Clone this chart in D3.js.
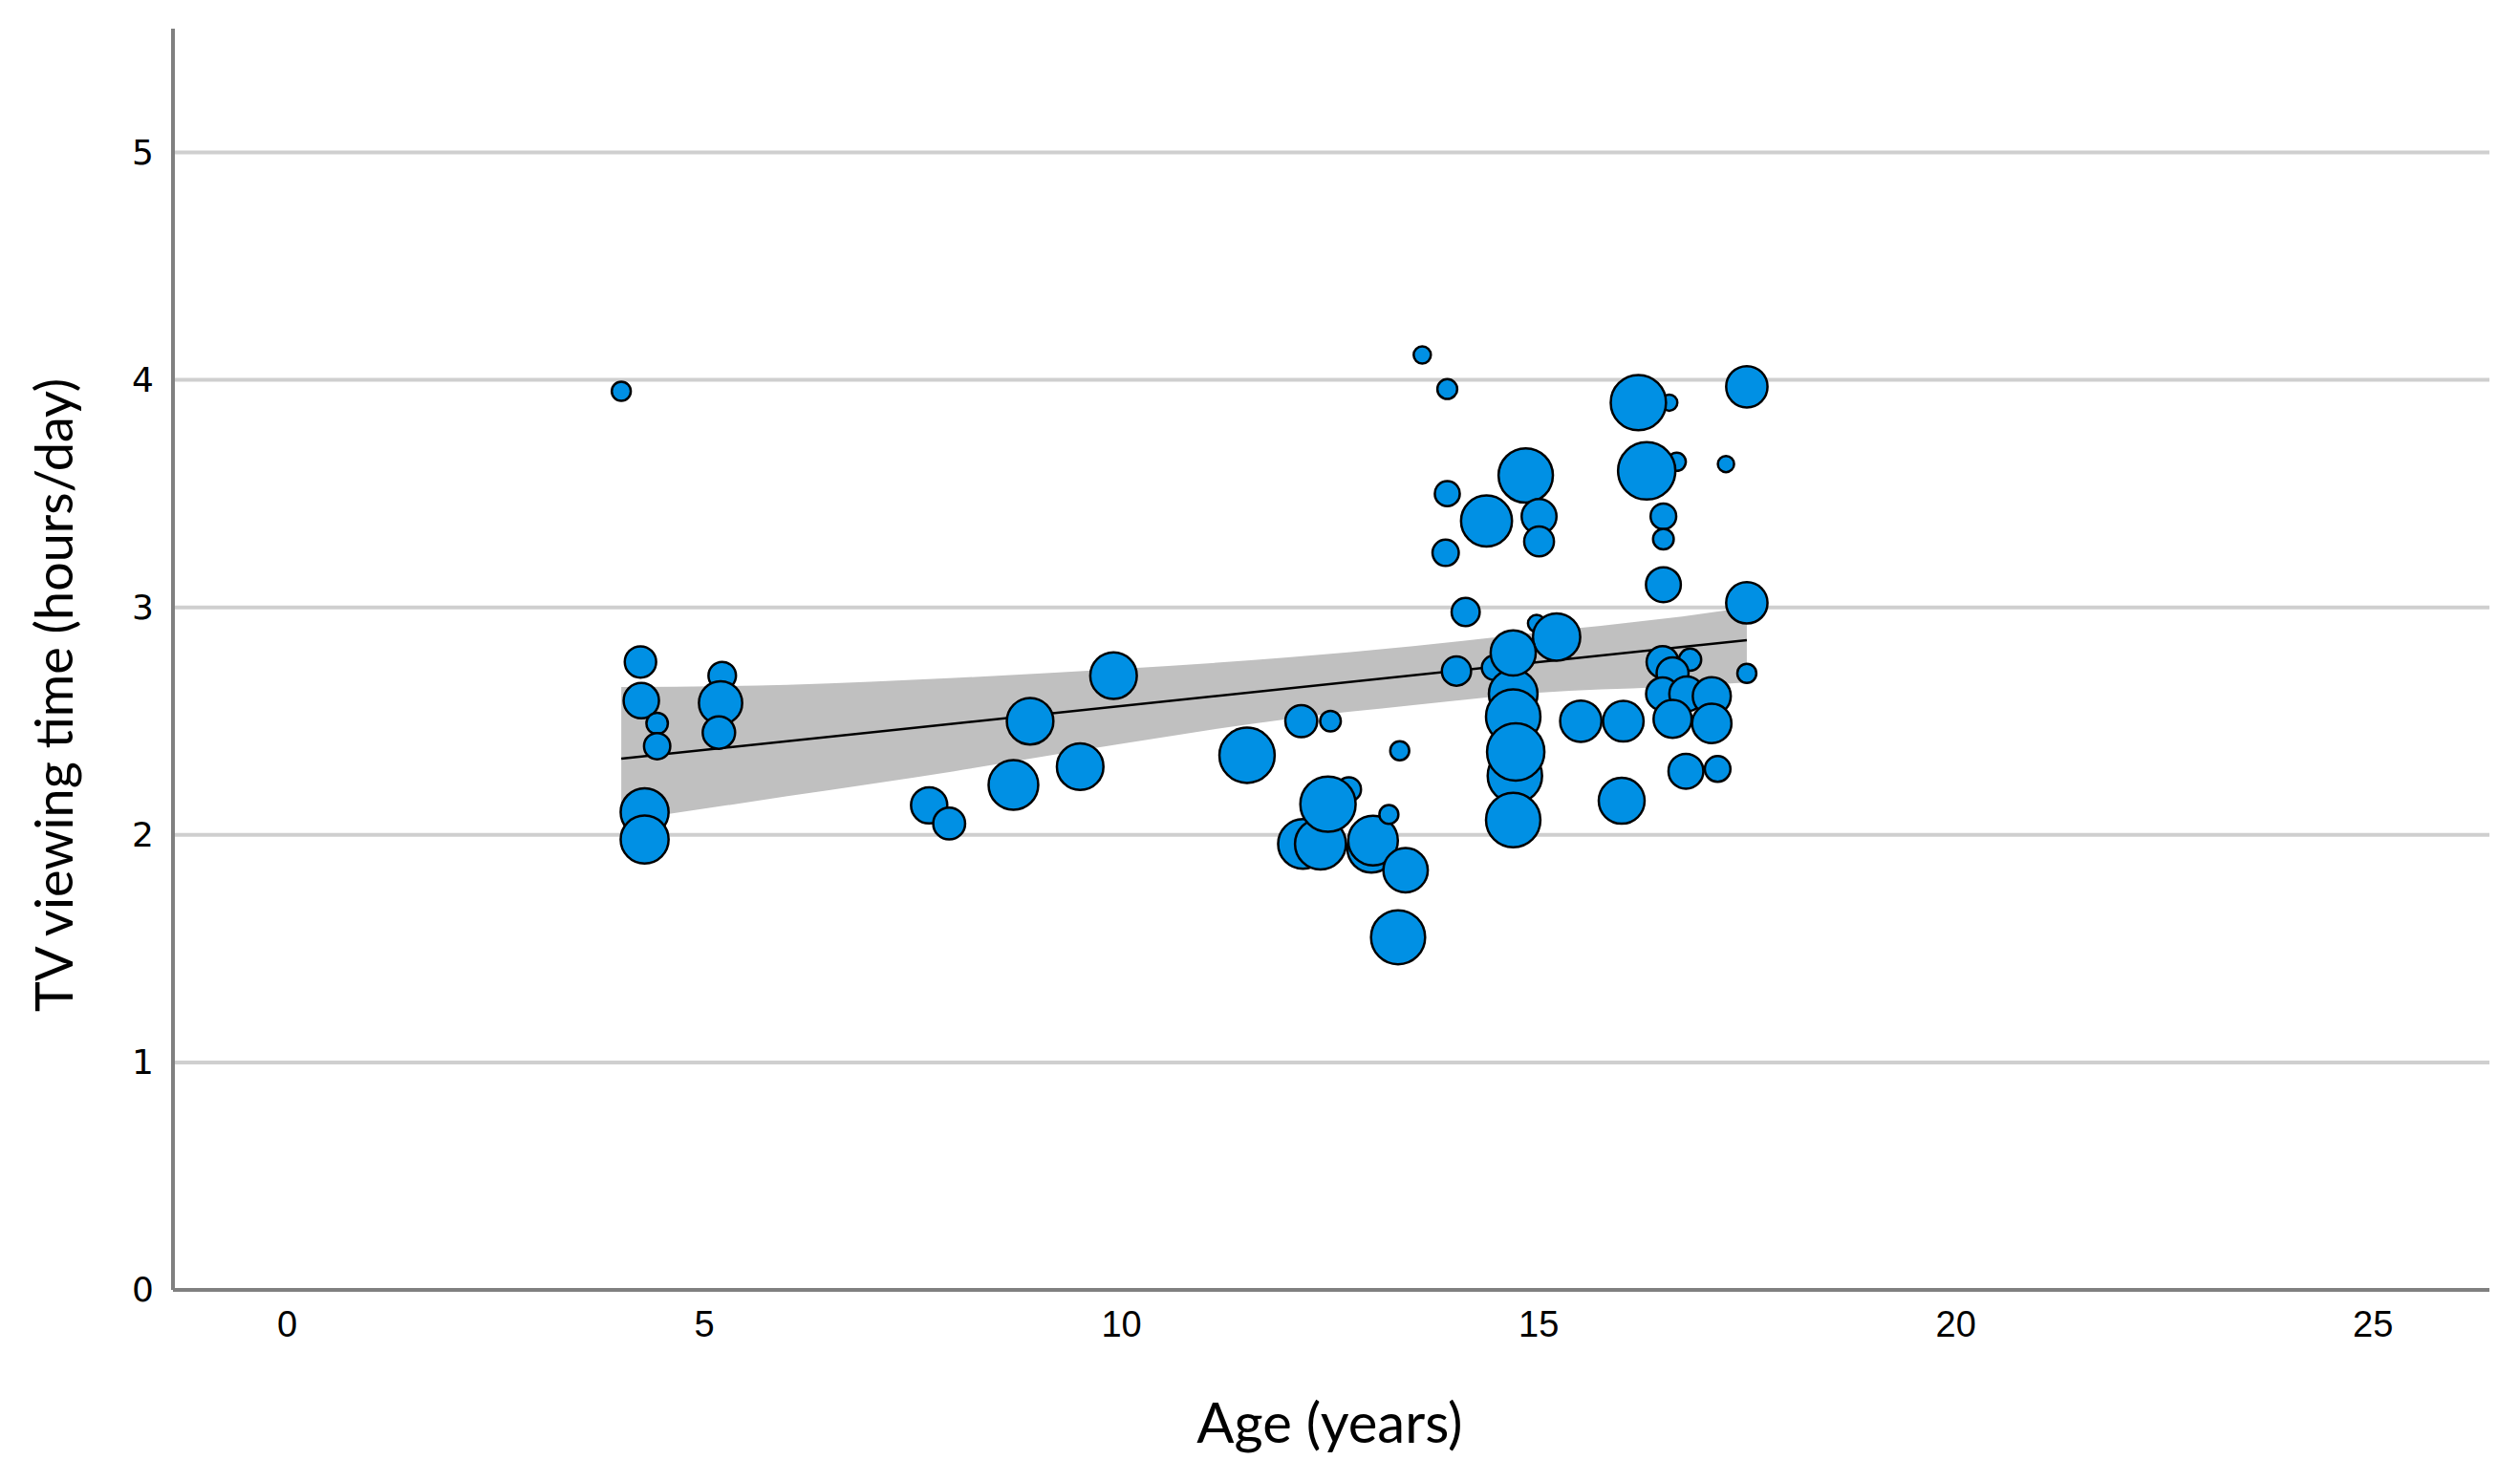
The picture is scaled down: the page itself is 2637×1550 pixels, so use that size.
<!DOCTYPE html>
<html>
<head>
<meta charset="utf-8">
<script src="https://cdn.jsdelivr.net/npm/d3@7"></script>
<style>
  body { margin: 0; background: #fff; }
  .tick text { fill: #000; }
</style>
</head>
<body>
<div id="chart"></div>
<script>
// data
// age (years), TV viewing time (hours/day), bubble weight
var ages = [4.01, 4.24, 4.25, 4.44, 4.44, 4.29, 4.29, 5.22, 5.20, 5.18,
  7.70, 7.94, 8.71, 8.91, 9.51, 9.91,
  11.51, 12.16, 12.51, 12.18, 12.39, 12.73, 12.48, 13.00, 13.02, 13.21, 13.34, 13.41, 13.32,
  13.61, 13.91, 13.91, 13.89, 14.13, 14.38, 14.85, 15.01, 15.01, 14.02, 14.47, 14.98, 15.22,
  14.70, 14.70, 14.72, 14.70, 14.73, 14.70,
  15.51, 16.02, 16.00, 16.57, 16.20, 16.66, 16.30, 16.50, 16.50, 16.50, 17.50, 17.25, 17.50, 17.50,
  16.49, 16.82, 16.61, 16.49, 16.78, 17.08, 16.61, 17.08, 16.77, 17.15];
var tvTime = [3.95, 2.76, 2.59, 2.49, 2.39, 2.10, 1.98, 2.70, 2.58, 2.45,
  2.13, 2.05, 2.22, 2.50, 2.30, 2.70,
  2.35, 2.50, 2.50, 1.96, 1.96, 2.20, 2.135, 1.94, 1.975, 2.09, 2.37, 1.845, 1.55,
  4.11, 3.96, 3.50, 3.24, 2.98, 3.38, 3.58, 3.40, 3.29, 2.72, 2.735, 2.93, 2.87,
  2.62, 2.52, 2.26, 2.065, 2.365, 2.80,
  2.50, 2.50, 2.15, 3.90, 3.90, 3.64, 3.60, 3.40, 3.30, 3.10, 3.97, 3.63, 3.02, 2.71,
  2.76, 2.77, 2.71, 2.62, 2.62, 2.61, 2.51, 2.49, 2.28, 2.29];
var weights = [11, 30, 38, 14, 21, 70, 70, 23, 57, 32,
  40, 31, 75, 66, 66, 66,
  93, 31, 13, 75, 79, 18, 93, 70, 75, 11, 11, 60, 89,
  9, 12, 19, 21, 24, 79, 90, 37, 27, 26, 18, 9, 68,
  72, 90, 90, 90, 100, 62,
  52, 50, 64, 8, 93, 10, 100, 20, 13, 37, 52, 8, 52, 11,
  31, 15, 31, 33, 37, 44, 44, 47, 37, 20];

// fitted line and its confidence band
var fitAge = [4.01, 17.50];
var fitTv = [2.335, 2.856];
var bandAge = [4.01, 6, 8, 10, 12, 13.5, 15, 16.5, 17.50];
var bandLow = [2.06, 2.17, 2.28, 2.40, 2.51, 2.57, 2.625, 2.65, 2.67];
var bandHigh = [2.65, 2.66, 2.69, 2.73, 2.78, 2.83, 2.89, 2.95, 3.00];

var xTicks = [0, 5, 10, 15, 20, 25];
var yTicks = [0, 1, 2, 3, 4, 5];

var W = 2637, H = 1550;
var margin = {top: 30, right: 32, bottom: 200, left: 181},
    width = W - margin.left - margin.right,
    height = H - margin.top - margin.bottom;

var svg = d3.select("#chart").append("svg")
    .attr("width", W)
    .attr("height", H)
    .style("background", "#fff");

var g = svg.append("g")
    .attr("transform", "translate(" + margin.left + "," + margin.top + ")");

var x = d3.scaleLinear().domain([-1.363, 26.40]).range([0, width]);
var y = d3.scaleLinear().domain([0, 5.544]).range([height, 0]);
var r = d3.scaleSqrt().domain([0, 100]).range([0, 30]);

// gridlines
g.append("g")
  .selectAll("line")
  .data(yTicks.filter(d => d > 0))
  .enter().append("line")
    .attr("x1", 0)
    .attr("x2", width)
    .attr("y1", d => y(d))
    .attr("y2", d => y(d))
    .attr("stroke", "#cfcfcf")
    .attr("stroke-width", 4);

// confidence band
var band = bandAge.map((a, i) => ({a: a, lo: bandLow[i], hi: bandHigh[i]}));
g.append("path")
  .datum(band)
  .attr("d", d3.area()
    .x(d => x(d.a))
    .y0(d => y(d.lo))
    .y1(d => y(d.hi))
    .curve(d3.curveMonotoneX))
  .attr("fill", "#c0c0c0");

// fit line
g.append("line")
  .attr("x1", x(fitAge[0]))
  .attr("x2", x(fitAge[1]))
  .attr("y1", y(fitTv[0]))
  .attr("y2", y(fitTv[1]))
  .attr("stroke", "#000")
  .attr("stroke-width", 2.5);

// bubbles
var points = ages.map((a, i) => ({age: a, tv: tvTime[i], n: weights[i]}));
g.append("g")
  .selectAll("circle")
  .data(points)
  .enter().append("circle")
    .attr("cx", d => x(d.age))
    .attr("cy", d => y(d.tv))
    .attr("r", d => r(d.n))
    .attr("fill", "#0090e4")
    .attr("stroke", "#000")
    .attr("stroke-width", 2.5);

// axes
var xAxis = g.append("g")
  .attr("transform", "translate(0," + height + ")")
  .call(d3.axisBottom(x).tickValues(xTicks).tickSize(0).tickPadding(22).tickFormat(d3.format("d")));
xAxis.select(".domain").remove();
xAxis.selectAll("text")
  .style("font-family", "'Liberation Sans', Arial, sans-serif")
  .style("font-size", "38px");

var yAxis = g.append("g")
  .call(d3.axisLeft(y).tickValues(yTicks).tickSize(0).tickPadding(20).tickFormat(d3.format("d")));
yAxis.select(".domain").remove();
yAxis.selectAll("text")
  .style("font-family", "'DejaVu Sans', sans-serif")
  .style("font-size", "36px");

g.append("line")
  .attr("x1", 0).attr("x2", 0)
  .attr("y1", 0).attr("y2", height)
  .attr("stroke", "#808080").attr("stroke-width", 4);
g.append("line")
  .attr("x1", 0).attr("x2", width)
  .attr("y1", height).attr("y2", height)
  .attr("stroke", "#808080").attr("stroke-width", 4);

// axis titles
svg.append("text")
  .attr("x", margin.left + x(12.5))
  .attr("y", 1510)
  .attr("text-anchor", "middle")
  .style("font-family", "Lato, sans-serif")
  .style("font-size", "58px")
  .text("Age (years)");

svg.append("text")
  .attr("transform", "translate(76," + (margin.top + y(2.615)) + ") rotate(-90)")
  .attr("text-anchor", "middle")
  .style("font-family", "Lato, sans-serif")
  .style("font-size", "54px")
  .text("TV viewing time (hours/day)");
</script>
</body>
</html>
